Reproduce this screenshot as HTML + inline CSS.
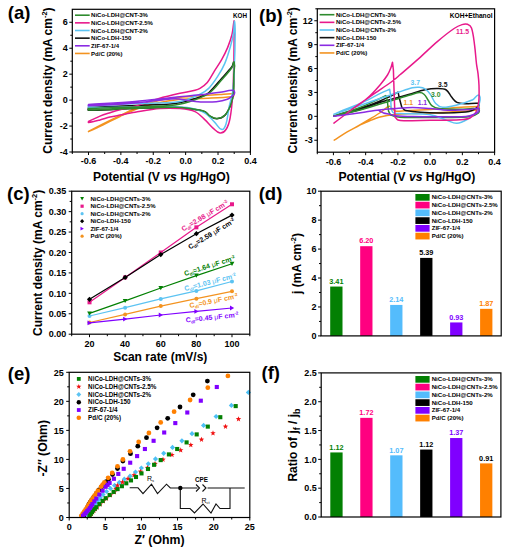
<!DOCTYPE html>
<html><head><meta charset="utf-8"><style>
html,body{margin:0;padding:0;background:#fff;}
svg{display:block;font-family:"Liberation Sans", sans-serif;}
</style></head><body>
<svg width="509" height="550" viewBox="0 0 509 550">
<rect width="509" height="550" fill="#fff"/>
<text x="7.80" y="19.10" font-size="18.5" text-anchor="start" fill="#000" font-weight="bold">(a)</text>
<path d="M88.49 152.0v3M120.87 152.0v3M153.25 152.0v3M185.64 152.0v3M218.02 152.0v3M250.40 152.0v3M72.30 152.0v2M104.68 152.0v2M137.06 152.0v2M169.45 152.0v2M201.83 152.0v2M234.21 152.0v2" stroke="#000" stroke-width="1"/>
<text x="88.49" y="164.30" font-size="9" text-anchor="middle" fill="#000" font-weight="bold">-0.6</text>
<text x="120.87" y="164.30" font-size="9" text-anchor="middle" fill="#000" font-weight="bold">-0.4</text>
<text x="153.25" y="164.30" font-size="9" text-anchor="middle" fill="#000" font-weight="bold">-0.2</text>
<text x="185.64" y="164.30" font-size="9" text-anchor="middle" fill="#000" font-weight="bold">0.0</text>
<text x="218.02" y="164.30" font-size="9" text-anchor="middle" fill="#000" font-weight="bold">0.2</text>
<text x="250.40" y="164.30" font-size="9" text-anchor="middle" fill="#000" font-weight="bold">0.4</text>
<path d="M72.3 152.00h-3M72.3 126.05h-3M72.3 100.11h-3M72.3 74.16h-3M72.3 48.22h-3M72.3 22.27h-3M72.3 139.03h-2M72.3 113.08h-2M72.3 87.14h-2M72.3 61.19h-2M72.3 35.25h-2" stroke="#000" stroke-width="1"/>
<text x="67.80" y="155.20" font-size="9" text-anchor="end" fill="#000" font-weight="bold">-4</text>
<text x="67.80" y="129.25" font-size="9" text-anchor="end" fill="#000" font-weight="bold">-2</text>
<text x="67.80" y="103.31" font-size="9" text-anchor="end" fill="#000" font-weight="bold">0</text>
<text x="67.80" y="77.36" font-size="9" text-anchor="end" fill="#000" font-weight="bold">2</text>
<text x="67.80" y="51.42" font-size="9" text-anchor="end" fill="#000" font-weight="bold">4</text>
<text x="67.80" y="25.47" font-size="9" text-anchor="end" fill="#000" font-weight="bold">6</text>
<text x="161.30" y="180.70" font-size="12.2" text-anchor="middle" fill="#000" font-weight="bold">Potential (V <tspan font-style="italic">vs</tspan> Hg/HgO)</text>
<text x="51.60" y="80.50" font-size="12" text-anchor="middle" fill="#000" font-weight="bold" transform="rotate(-90 51.60 80.50)">Current density (mA cm<tspan dy="-4.8" font-size="7.5">-2</tspan><tspan dy="4.8">)</tspan></text>
<path d="M75 15.20h14.7" stroke="#2e8b2e" stroke-width="1.6"/>
<text x="91.10" y="17.30" font-size="6" text-anchor="start" fill="#000" font-weight="bold">NiCo-LDH@CNT-3%</text>
<path d="M75 22.85h14.7" stroke="#e8198b" stroke-width="1.6"/>
<text x="91.10" y="24.95" font-size="6" text-anchor="start" fill="#000" font-weight="bold">NiCo-LDH@CNT-2.5%</text>
<path d="M75 30.50h14.7" stroke="#5cc3f2" stroke-width="1.6"/>
<text x="91.10" y="32.60" font-size="6" text-anchor="start" fill="#000" font-weight="bold">NiCo-LDH@CNT-2%</text>
<path d="M75 38.15h14.7" stroke="#111" stroke-width="1.6"/>
<text x="91.10" y="40.25" font-size="6" text-anchor="start" fill="#000" font-weight="bold">NiCo-LDH-150</text>
<path d="M75 45.80h14.7" stroke="#8a2be2" stroke-width="1.6"/>
<text x="91.10" y="47.90" font-size="6" text-anchor="start" fill="#000" font-weight="bold">ZIF-67-1/4</text>
<path d="M75 53.45h14.7" stroke="#f39320" stroke-width="1.6"/>
<text x="91.10" y="55.55" font-size="6" text-anchor="start" fill="#000" font-weight="bold">Pd/C (20%)</text>
<text x="247.00" y="18.20" font-size="6.3" text-anchor="end" fill="#000" font-weight="bold">KOH</text>
<text x="259.00" y="21.50" font-size="18.5" text-anchor="start" fill="#000" font-weight="bold">(b)</text>
<path d="M333.42 152.2v3M365.65 152.2v3M397.89 152.2v3M430.13 152.2v3M462.36 152.2v3M494.60 152.2v3M317.30 152.2v2M349.54 152.2v2M381.77 152.2v2M414.01 152.2v2M446.25 152.2v2M478.48 152.2v2" stroke="#000" stroke-width="1"/>
<text x="333.42" y="164.50" font-size="9" text-anchor="middle" fill="#000" font-weight="bold">-0.6</text>
<text x="365.65" y="164.50" font-size="9" text-anchor="middle" fill="#000" font-weight="bold">-0.4</text>
<text x="397.89" y="164.50" font-size="9" text-anchor="middle" fill="#000" font-weight="bold">-0.2</text>
<text x="430.13" y="164.50" font-size="9" text-anchor="middle" fill="#000" font-weight="bold">0.0</text>
<text x="462.36" y="164.50" font-size="9" text-anchor="middle" fill="#000" font-weight="bold">0.2</text>
<text x="494.60" y="164.50" font-size="9" text-anchor="middle" fill="#000" font-weight="bold">0.4</text>
<path d="M317.3 140.25h-3M317.3 116.35h-3M317.3 92.45h-3M317.3 68.55h-3M317.3 44.65h-3M317.3 20.75h-3M317.3 128.30h-2M317.3 104.40h-2M317.3 80.50h-2M317.3 56.60h-2M317.3 32.70h-2M317.3 8.80h-2" stroke="#000" stroke-width="1"/>
<text x="312.80" y="143.45" font-size="9" text-anchor="end" fill="#000" font-weight="bold">-3</text>
<text x="312.80" y="119.55" font-size="9" text-anchor="end" fill="#000" font-weight="bold">0</text>
<text x="312.80" y="95.65" font-size="9" text-anchor="end" fill="#000" font-weight="bold">3</text>
<text x="312.80" y="71.75" font-size="9" text-anchor="end" fill="#000" font-weight="bold">6</text>
<text x="312.80" y="47.85" font-size="9" text-anchor="end" fill="#000" font-weight="bold">9</text>
<text x="312.80" y="23.95" font-size="9" text-anchor="end" fill="#000" font-weight="bold">12</text>
<text x="406.90" y="180.70" font-size="12.2" text-anchor="middle" fill="#000" font-weight="bold">Potential (V <tspan font-style="italic">vs</tspan> Hg/HgO)</text>
<text x="297.00" y="80.30" font-size="12" text-anchor="middle" fill="#000" font-weight="bold" transform="rotate(-90 297.00 80.30)">Current density (mA cm<tspan dy="-4.8" font-size="7.5">-2</tspan><tspan dy="4.8">)</tspan></text>
<path d="M319.6 14.70h14.8" stroke="#2e8b2e" stroke-width="1.6"/>
<text x="336.00" y="16.80" font-size="6" text-anchor="start" fill="#000" font-weight="bold">NiCo-LDH@CNTs-3%</text>
<path d="M319.6 22.35h14.8" stroke="#e8198b" stroke-width="1.6"/>
<text x="336.00" y="24.45" font-size="6" text-anchor="start" fill="#000" font-weight="bold">NiCo-LDH@CNTs-2.5%</text>
<path d="M319.6 30.00h14.8" stroke="#5cc3f2" stroke-width="1.6"/>
<text x="336.00" y="32.10" font-size="6" text-anchor="start" fill="#000" font-weight="bold">NiCo-LDH@CNTs-2%</text>
<path d="M319.6 37.65h14.8" stroke="#111" stroke-width="1.6"/>
<text x="336.00" y="39.75" font-size="6" text-anchor="start" fill="#000" font-weight="bold">NiCo-LDH-150</text>
<path d="M319.6 45.30h14.8" stroke="#8a2be2" stroke-width="1.6"/>
<text x="336.00" y="47.40" font-size="6" text-anchor="start" fill="#000" font-weight="bold">ZIF-67-1/4</text>
<path d="M319.6 52.95h14.8" stroke="#f39320" stroke-width="1.6"/>
<text x="336.00" y="55.05" font-size="6" text-anchor="start" fill="#000" font-weight="bold">Pd/C (20%)</text>
<text x="492.50" y="18.20" font-size="6.6" text-anchor="end" fill="#000" font-weight="bold">KOH+Ethanol</text>
<text x="7.00" y="199.70" font-size="18.5" text-anchor="start" fill="#000" font-weight="bold">(c)</text>
<path d="M89.51 334.2v3M125.13 334.2v3M160.75 334.2v3M196.37 334.2v3M231.99 334.2v3M71.70 334.2v2M107.32 334.2v2M142.94 334.2v2M178.56 334.2v2M214.18 334.2v2M249.80 334.2v2" stroke="#000" stroke-width="1"/>
<text x="89.51" y="347.10" font-size="9" text-anchor="middle" fill="#000" font-weight="bold">20</text>
<text x="125.13" y="347.10" font-size="9" text-anchor="middle" fill="#000" font-weight="bold">40</text>
<text x="160.75" y="347.10" font-size="9" text-anchor="middle" fill="#000" font-weight="bold">60</text>
<text x="196.37" y="347.10" font-size="9" text-anchor="middle" fill="#000" font-weight="bold">80</text>
<text x="231.99" y="347.10" font-size="9" text-anchor="middle" fill="#000" font-weight="bold">100</text>
<path d="M71.7 334.20h-3M71.7 313.77h-3M71.7 293.34h-3M71.7 272.91h-3M71.7 252.49h-3M71.7 232.06h-3M71.7 211.63h-3M71.7 191.20h-3M71.7 323.99h-2M71.7 303.56h-2M71.7 283.13h-2M71.7 262.70h-2M71.7 242.27h-2M71.7 221.84h-2M71.7 201.41h-2" stroke="#000" stroke-width="1"/>
<text x="66.40" y="337.40" font-size="9" text-anchor="end" fill="#000" font-weight="bold">0.00</text>
<text x="66.40" y="316.97" font-size="9" text-anchor="end" fill="#000" font-weight="bold">0.05</text>
<text x="66.40" y="296.54" font-size="9" text-anchor="end" fill="#000" font-weight="bold">0.10</text>
<text x="66.40" y="276.11" font-size="9" text-anchor="end" fill="#000" font-weight="bold">0.15</text>
<text x="66.40" y="255.69" font-size="9" text-anchor="end" fill="#000" font-weight="bold">0.20</text>
<text x="66.40" y="235.26" font-size="9" text-anchor="end" fill="#000" font-weight="bold">0.25</text>
<text x="66.40" y="214.83" font-size="9" text-anchor="end" fill="#000" font-weight="bold">0.30</text>
<text x="66.40" y="194.40" font-size="9" text-anchor="end" fill="#000" font-weight="bold">0.35</text>
<text x="160.30" y="361.30" font-size="12" text-anchor="middle" fill="#000" font-weight="bold">Scan rate (mV/s)</text>
<text x="41.80" y="262.90" font-size="12" text-anchor="middle" fill="#000" font-weight="bold" transform="rotate(-90 41.80 262.90)">Current density (mA cm<tspan dy="-4.8" font-size="7.5">-2</tspan><tspan dy="4.8">)</tspan></text>
<text x="258.70" y="199.50" font-size="18.5" text-anchor="start" fill="#000" font-weight="bold">(d)</text>
<path d="M321.0 335.90h-3M321.0 306.96h-3M321.0 278.02h-3M321.0 249.08h-3M321.0 220.14h-3M321.0 191.20h-3M321.0 321.43h-2M321.0 292.49h-2M321.0 263.55h-2M321.0 234.61h-2M321.0 205.67h-2" stroke="#000" stroke-width="1"/>
<text x="316.50" y="339.10" font-size="9" text-anchor="end" fill="#000" font-weight="bold">0</text>
<text x="316.50" y="310.16" font-size="9" text-anchor="end" fill="#000" font-weight="bold">2</text>
<text x="316.50" y="281.22" font-size="9" text-anchor="end" fill="#000" font-weight="bold">4</text>
<text x="316.50" y="252.28" font-size="9" text-anchor="end" fill="#000" font-weight="bold">6</text>
<text x="316.50" y="223.34" font-size="9" text-anchor="end" fill="#000" font-weight="bold">8</text>
<text x="316.50" y="194.40" font-size="9" text-anchor="end" fill="#000" font-weight="bold">10</text>
<text x="300.50" y="263.50" font-size="12" text-anchor="middle" fill="#000" font-weight="bold" transform="rotate(-90 300.50 263.50)">j (mA cm<tspan dy="-4.8" font-size="7.5">-2</tspan><tspan dy="4.8">)</tspan></text>
<text x="7.80" y="379.70" font-size="18.5" text-anchor="start" fill="#000" font-weight="bold">(e)</text>
<path d="M69.20 517.5v3M105.32 517.5v3M141.44 517.5v3M177.56 517.5v3M213.68 517.5v3M249.80 517.5v3M87.26 517.5v2M123.38 517.5v2M159.50 517.5v2M195.62 517.5v2M231.74 517.5v2" stroke="#000" stroke-width="1"/>
<text x="69.20" y="529.90" font-size="9" text-anchor="middle" fill="#000" font-weight="bold">0</text>
<text x="105.32" y="529.90" font-size="9" text-anchor="middle" fill="#000" font-weight="bold">5</text>
<text x="141.44" y="529.90" font-size="9" text-anchor="middle" fill="#000" font-weight="bold">10</text>
<text x="177.56" y="529.90" font-size="9" text-anchor="middle" fill="#000" font-weight="bold">15</text>
<text x="213.68" y="529.90" font-size="9" text-anchor="middle" fill="#000" font-weight="bold">20</text>
<text x="249.80" y="529.90" font-size="9" text-anchor="middle" fill="#000" font-weight="bold">25</text>
<path d="M69.2 517.50h-3M69.2 488.46h-3M69.2 459.42h-3M69.2 430.38h-3M69.2 401.34h-3M69.2 372.30h-3M69.2 502.98h-2M69.2 473.94h-2M69.2 444.90h-2M69.2 415.86h-2M69.2 386.82h-2" stroke="#000" stroke-width="1"/>
<text x="63.70" y="520.70" font-size="9" text-anchor="end" fill="#000" font-weight="bold">0</text>
<text x="63.70" y="491.66" font-size="9" text-anchor="end" fill="#000" font-weight="bold">5</text>
<text x="63.70" y="462.62" font-size="9" text-anchor="end" fill="#000" font-weight="bold">10</text>
<text x="63.70" y="433.58" font-size="9" text-anchor="end" fill="#000" font-weight="bold">15</text>
<text x="63.70" y="404.54" font-size="9" text-anchor="end" fill="#000" font-weight="bold">20</text>
<text x="63.70" y="375.50" font-size="9" text-anchor="end" fill="#000" font-weight="bold">25</text>
<text x="159.50" y="544.20" font-size="12.3" text-anchor="middle" fill="#000" font-weight="bold">Z′ (Ohm)</text>
<text x="47.20" y="448.30" font-size="12.2" text-anchor="middle" fill="#000" font-weight="bold" transform="rotate(-90 47.20 448.30)">-Z″ (Ohm)</text>
<text x="261.50" y="379.10" font-size="18.5" text-anchor="start" fill="#000" font-weight="bold">(f)</text>
<path d="M321.2 517.00h-3M321.2 488.18h-3M321.2 459.36h-3M321.2 430.54h-3M321.2 401.72h-3M321.2 372.90h-3M321.2 502.59h-2M321.2 473.77h-2M321.2 444.95h-2M321.2 416.13h-2M321.2 387.31h-2" stroke="#000" stroke-width="1"/>
<text x="316.70" y="520.20" font-size="9" text-anchor="end" fill="#000" font-weight="bold">0.0</text>
<text x="316.70" y="491.38" font-size="9" text-anchor="end" fill="#000" font-weight="bold">0.5</text>
<text x="316.70" y="462.56" font-size="9" text-anchor="end" fill="#000" font-weight="bold">1.0</text>
<text x="316.70" y="433.74" font-size="9" text-anchor="end" fill="#000" font-weight="bold">1.5</text>
<text x="316.70" y="404.92" font-size="9" text-anchor="end" fill="#000" font-weight="bold">2.0</text>
<text x="316.70" y="376.10" font-size="9" text-anchor="end" fill="#000" font-weight="bold">2.5</text>
<text x="297.00" y="445.00" font-size="12" text-anchor="middle" fill="#000" font-weight="bold" transform="rotate(-90 297.00 445.00)">Ratio of j<tspan dy="3" font-size="9">f</tspan><tspan dy="-3"> / j</tspan><tspan dy="3" font-size="9">b</tspan></text>
<path d="M88.50 131.30 C92.33 129.37 96.16 127.43 100.00 125.50 C103.33 123.83 106.66 122.15 110.00 120.50 C113.33 118.85 116.67 117.23 120.00 115.60 C123.33 113.97 126.65 112.31 130.00 110.70 C133.32 109.11 136.52 107.21 140.00 106.00 C146.55 103.73 153.25 101.88 160.00 100.30 C164.94 99.14 169.96 98.37 175.00 97.80 C183.31 96.87 191.66 96.41 200.00 95.80 C206.66 95.31 213.33 94.92 220.00 94.50 C224.00 94.25 228.00 93.66 232.00 93.80 C232.78 93.83 234.00 94.22 234.00 95.00 C234.00 95.90 232.89 96.71 232.00 96.80 C221.37 97.89 210.66 97.90 200.00 98.50 C191.66 98.97 183.31 99.17 175.00 100.00 C169.96 100.50 164.95 101.40 160.00 102.50 C153.27 104.00 146.59 105.76 140.00 107.80 C136.57 108.86 133.29 110.37 130.00 111.80 C126.62 113.27 123.32 114.91 120.00 116.50 C116.65 118.11 113.33 119.77 110.00 121.40 C106.67 123.03 103.35 124.71 100.00 126.30 C96.19 128.11 92.33 129.83 88.50 131.60" fill="none" stroke="#f39320" stroke-width="1.5" stroke-linejoin="round" stroke-linecap="round"/>
<path d="M88.50 107.50 C104.00 106.83 119.50 106.22 135.00 105.50 C148.34 104.88 161.76 105.23 175.00 103.50 C183.54 102.38 191.80 99.63 200.00 97.00 C203.08 96.01 206.25 94.81 208.70 92.70 C213.63 88.45 217.47 83.07 221.80 78.20 C225.24 74.33 228.89 70.63 232.00 66.50 C232.99 65.19 233.66 60.39 234.00 62.00 C234.90 66.24 233.90 70.67 233.80 75.00 C233.66 81.27 233.90 87.56 233.30 93.80 C232.97 97.27 232.26 100.75 231.00 104.00 C229.47 107.95 227.92 112.13 225.00 115.20 C222.99 117.31 219.90 118.51 217.00 118.70 C214.53 118.86 212.15 117.44 210.00 116.20 C208.08 115.09 207.08 112.58 205.00 111.80 C200.22 110.01 195.05 109.44 190.00 108.70 C185.03 107.97 180.02 107.42 175.00 107.40 C161.66 107.35 148.33 108.07 135.00 108.50 C119.50 109.00 104.01 110.53 88.50 110.20 C87.60 110.18 88.50 108.40 88.50 107.50" fill="none" stroke="#111" stroke-width="1.5" stroke-linejoin="round" stroke-linecap="round"/>
<path d="M88.50 121.50 C92.33 119.70 96.08 117.70 100.00 116.10 C103.26 114.77 106.65 113.77 110.00 112.70 C113.31 111.64 116.63 110.56 120.00 109.70 C124.97 108.43 130.07 107.72 135.00 106.30 C143.09 103.98 150.92 100.83 159.00 98.50 C165.93 96.50 172.97 94.90 180.00 93.30 C184.97 92.17 190.05 91.51 195.00 90.30 C196.73 89.88 198.49 89.35 200.00 88.40 C202.64 86.72 205.30 84.91 207.30 82.50 C210.20 79.00 212.09 74.76 214.50 70.90 C216.92 67.03 219.56 63.28 221.80 59.30 C223.93 55.51 225.94 51.63 227.60 47.60 C229.35 43.34 230.90 38.97 232.00 34.50 C232.94 30.71 233.10 26.76 233.70 22.90 C233.80 22.26 234.08 20.35 234.10 21.00 C234.25 27.33 234.15 33.67 234.10 40.00 C234.05 47.33 233.98 54.67 233.80 62.00 C233.54 72.60 233.51 83.22 232.80 93.80 C232.24 102.07 231.55 110.36 230.00 118.50 C229.27 122.33 228.22 126.29 226.00 129.50 C224.69 131.41 222.30 133.25 220.00 133.00 C217.17 132.70 215.15 129.97 213.00 128.10 C210.12 125.59 207.81 122.48 205.00 119.90 C201.81 116.97 198.95 113.38 195.00 111.60 C190.35 109.50 185.08 109.05 180.00 108.60 C173.36 108.01 166.65 107.97 160.00 108.50 C151.60 109.17 143.31 110.83 135.00 112.20 C129.98 113.03 125.00 114.12 120.00 115.10 C116.66 115.75 113.30 116.29 110.00 117.10 C106.63 117.93 103.37 119.15 100.00 120.00 C96.20 120.96 92.39 121.99 88.50 122.50 C88.17 122.54 88.50 121.83 88.50 121.50" fill="none" stroke="#e8198b" stroke-width="1.5" stroke-linejoin="round" stroke-linecap="round"/>
<path d="M88.50 105.80 C104.00 105.07 119.50 104.33 135.00 103.60 C150.00 102.90 165.14 103.65 180.00 101.50 C187.02 100.48 193.54 97.15 200.00 94.20 C203.17 92.75 206.24 90.86 208.70 88.40 C212.15 84.95 214.85 80.80 217.50 76.70 C220.20 72.51 222.75 68.18 224.70 63.60 C227.10 57.98 228.81 52.07 230.50 46.20 C231.74 41.90 232.73 37.51 233.50 33.10 C234.14 29.43 234.23 18.31 234.70 22.00 C235.66 29.61 235.06 37.33 235.00 45.00 C234.96 51.20 234.69 57.40 234.40 63.60 C233.99 72.34 233.97 81.12 232.90 89.80 C232.16 95.80 230.19 101.58 229.00 107.50 C227.89 112.98 227.69 118.67 226.00 124.00 C225.31 126.16 224.25 129.79 222.00 129.50 C218.75 129.09 217.35 124.88 215.00 122.60 C211.68 119.38 208.99 115.33 205.00 113.00 C200.45 110.34 195.16 109.07 190.00 108.00 C185.09 106.98 180.02 106.87 175.00 106.80 C161.67 106.61 148.33 107.14 135.00 107.20 C119.50 107.27 103.99 107.67 88.50 107.20 C88.03 107.19 88.50 106.27 88.50 105.80" fill="none" stroke="#5cc3f2" stroke-width="1.5" stroke-linejoin="round" stroke-linecap="round"/>
<path d="M88.50 108.60 C104.00 108.07 119.50 107.64 135.00 107.00 C148.34 106.44 161.75 106.59 175.00 105.00 C181.84 104.18 188.51 102.12 195.00 99.80 C200.24 97.93 205.56 95.84 210.00 92.50 C214.71 88.96 218.10 83.93 222.00 79.50 C225.44 75.59 229.00 71.76 232.00 67.50 C233.10 65.94 233.75 60.34 234.20 62.20 C235.20 66.35 233.92 70.73 233.80 75.00 C233.62 81.27 233.90 87.56 233.30 93.80 C232.97 97.27 232.27 100.75 231.00 104.00 C229.48 107.89 227.90 112.00 225.00 115.00 C222.98 117.09 219.90 118.31 217.00 118.50 C214.53 118.66 212.15 117.24 210.00 116.00 C208.08 114.89 207.08 112.38 205.00 111.60 C200.22 109.81 195.05 109.24 190.00 108.50 C185.03 107.77 180.02 107.22 175.00 107.20 C161.66 107.15 148.33 107.87 135.00 108.30 C119.50 108.80 104.01 109.90 88.50 110.00 C88.03 110.00 88.50 109.07 88.50 108.60" fill="none" stroke="#2e8b2e" stroke-width="1.5" stroke-linejoin="round" stroke-linecap="round"/>
<path d="M88.50 104.60 C104.00 103.53 119.52 102.72 135.00 101.40 C148.36 100.26 161.66 98.55 175.00 97.20 C183.33 96.35 191.68 95.72 200.00 94.80 C206.68 94.06 213.34 93.14 220.00 92.20 C224.01 91.64 227.96 90.58 232.00 90.30 C232.82 90.24 233.88 90.49 234.30 91.20 C234.81 92.06 234.66 93.27 234.30 94.20 C234.01 94.95 233.15 95.33 232.50 95.80 C230.81 97.03 229.26 98.58 227.30 99.30 C223.77 100.58 220.03 101.29 216.30 101.70 C211.73 102.20 207.10 102.18 202.50 102.00 C197.91 101.82 193.36 101.13 188.80 100.60 C184.19 100.06 179.63 98.59 175.00 98.80 C161.61 99.40 148.36 101.92 135.00 103.00 C119.52 104.25 104.02 105.27 88.50 105.80 C88.10 105.81 88.50 105.00 88.50 104.60" fill="none" stroke="#8a2be2" stroke-width="1.5" stroke-linejoin="round" stroke-linecap="round"/>
<path d="M334.20 140.10 C338.53 137.37 342.78 134.50 347.20 131.90 C351.06 129.63 355.11 127.70 359.00 125.50 C362.71 123.40 366.36 121.21 370.00 119.00 C374.03 116.55 378.08 114.12 382.00 111.50 C384.48 109.85 386.31 106.94 389.20 106.20 C390.56 105.85 391.37 107.97 392.50 108.80 C393.64 109.64 394.60 110.98 396.00 111.20 C398.97 111.67 402.00 110.95 405.00 110.80 C413.33 110.38 421.67 109.98 430.00 109.50 C446.17 108.58 462.30 106.60 478.50 106.60 C479.47 106.60 479.75 109.32 478.80 109.50 C469.33 111.29 459.62 111.38 450.00 112.00 C440.01 112.65 430.00 112.85 420.00 113.30 C411.67 113.68 403.31 113.73 395.00 114.50 C389.95 114.97 384.91 115.73 380.00 117.00 C375.86 118.07 371.96 119.90 368.00 121.50 C364.96 122.73 362.00 124.17 359.00 125.50" fill="none" stroke="#f39320" stroke-width="1.5" stroke-linejoin="round" stroke-linecap="round"/>
<path d="M333.90 116.00 C342.60 113.83 351.40 112.02 360.00 109.50 C366.78 107.51 373.26 104.63 380.00 102.50 C385.94 100.62 392.01 99.19 398.00 97.50 C401.81 96.43 405.60 95.28 409.40 94.20 C414.60 92.72 419.70 90.86 425.00 89.80 C429.07 88.99 433.25 88.56 437.40 88.60 C440.40 88.63 443.72 88.46 446.30 90.00 C448.83 91.52 449.68 94.86 451.60 97.10 C453.22 99.00 454.64 101.33 456.90 102.40 C459.58 103.67 462.73 103.68 465.70 103.80 C469.97 103.98 474.29 102.59 478.50 103.30 C479.39 103.45 479.30 105.33 478.70 106.00 C476.90 108.00 474.44 109.36 472.00 110.50 C470.04 111.42 467.86 111.94 465.70 112.10 C456.89 112.77 448.03 113.25 439.20 113.00 C427.97 112.68 416.70 112.12 405.60 110.40 C403.96 110.15 403.07 108.27 401.80 107.20 L399.30 98.00 L398.10 92.20 L398.10 92.20 C395.40 93.63 392.78 95.23 390.00 96.50 C383.41 99.50 376.84 102.62 370.00 105.00 C358.12 109.13 345.93 112.33 333.90 116.00" fill="none" stroke="#111" stroke-width="1.5" stroke-linejoin="round" stroke-linecap="round"/>
<path d="M333.90 116.00 C342.60 114.00 351.38 112.33 360.00 110.00 C371.76 106.82 383.33 103.00 395.00 99.50 C400.00 98.00 404.98 96.43 410.00 95.00 C413.05 94.13 416.04 92.78 419.20 92.60 C420.88 92.50 422.71 93.11 424.00 94.20 C425.80 95.71 426.66 98.07 428.00 100.00 C429.36 101.97 430.20 104.44 432.10 105.90 C434.11 107.44 436.69 108.29 439.20 108.60 C446.09 109.44 453.06 109.23 460.00 109.30 C466.17 109.36 472.45 107.79 478.50 109.00 C479.81 109.26 479.50 112.12 478.50 113.00 C476.20 115.03 473.03 116.06 470.00 116.50 C462.74 117.55 455.34 117.33 448.00 117.40 C432.00 117.56 415.99 117.87 400.00 117.20 C396.91 117.07 393.72 116.47 391.00 115.00 C389.62 114.25 389.33 112.33 388.50 111.00 L387.20 100.00 L385.80 95.60 L385.80 95.60 C383.20 96.90 380.64 98.28 378.00 99.50 C372.04 102.25 366.15 105.20 360.00 107.50 C351.43 110.71 342.60 113.17 333.90 116.00" fill="none" stroke="#2e8b2e" stroke-width="1.5" stroke-linejoin="round" stroke-linecap="round"/>
<path d="M333.90 114.30 C342.60 111.37 351.31 108.48 360.00 105.50 C366.68 103.21 373.32 100.80 380.00 98.50 C386.19 96.37 392.39 94.26 398.60 92.20 C403.15 90.69 407.63 88.91 412.30 87.80 C414.54 87.27 416.90 87.12 419.20 87.30 C421.19 87.46 423.31 87.73 425.00 88.80 C427.19 90.19 428.87 92.30 430.40 94.40 C432.47 97.24 433.28 100.96 435.70 103.50 C437.53 105.42 440.05 107.11 442.70 107.30 C447.48 107.64 452.25 106.16 456.90 105.00 C462.31 103.65 467.69 102.04 472.80 99.80 C475.14 98.77 476.87 93.90 479.00 95.30 C481.43 96.89 479.66 101.14 479.20 104.00 C478.74 106.83 478.05 109.83 476.30 112.10 C474.00 115.09 470.76 117.32 467.50 119.20 C464.22 121.09 460.69 123.14 456.90 123.30 C453.21 123.46 449.81 121.23 446.30 120.10 C440.98 118.39 435.93 115.59 430.40 114.80 C420.36 113.37 410.13 114.05 400.00 113.50 C397.82 113.38 395.44 113.79 393.50 112.80 C392.18 112.13 391.97 110.27 391.20 109.00 L390.50 95.00 L389.70 89.30 L389.70 89.30 C387.10 90.43 384.45 91.46 381.90 92.70 C375.02 96.03 368.36 99.83 361.40 103.00 C356.05 105.44 350.44 107.27 345.00 109.50 C341.27 111.03 337.60 112.70 333.90 114.30" fill="none" stroke="#5cc3f2" stroke-width="1.5" stroke-linejoin="round" stroke-linecap="round"/>
<path d="M333.90 123.10 C337.27 120.57 340.64 118.05 344.00 115.50 C347.54 112.81 350.99 110.00 354.60 107.40 C361.33 102.56 368.20 97.94 375.00 93.20 C381.07 88.97 387.24 84.89 393.20 80.50 C395.58 78.75 397.76 76.73 400.00 74.80 C406.26 69.43 412.54 64.08 418.70 58.60 C424.97 53.02 430.90 47.04 437.30 41.60 C442.71 37.00 448.25 32.53 454.10 28.50 C456.52 26.84 459.20 25.48 462.00 24.60 C463.75 24.05 465.77 23.68 467.50 24.30 C469.21 24.91 470.92 26.28 471.50 28.00 C473.38 33.55 473.79 39.50 474.60 45.30 C475.46 51.51 475.74 57.78 476.50 64.00 C476.88 67.12 477.64 70.18 478.00 73.30 C478.47 77.39 478.90 81.49 479.00 85.60 C479.13 91.07 479.32 96.57 478.70 102.00 C478.31 105.43 477.65 108.97 476.00 112.00 C474.65 114.48 472.54 116.76 470.00 118.00 C466.96 119.48 463.38 119.61 460.00 119.80 C450.02 120.37 440.00 120.12 430.00 120.30 C421.33 120.45 412.67 120.88 404.00 120.80 C401.98 120.78 399.86 120.78 398.00 120.00 C396.70 119.45 396.00 118.00 395.00 117.00 L394.20 95.00 L393.40 70.00 L392.50 62.30 L392.50 62.30 C392.00 64.03 391.66 65.82 391.00 67.50 C389.99 70.07 388.97 72.66 387.50 75.00 C385.28 78.53 382.68 81.81 380.00 85.00 C376.84 88.75 373.52 92.38 370.00 95.80 C367.51 98.22 364.78 100.41 362.00 102.50 C359.64 104.28 357.07 105.77 354.60 107.40" fill="none" stroke="#e8198b" stroke-width="1.5" stroke-linejoin="round" stroke-linecap="round"/>
<path d="M333.90 116.30 C340.93 115.37 347.97 114.47 355.00 113.50 C362.41 112.47 369.78 111.23 377.20 110.30 C383.12 109.56 389.06 108.99 395.00 108.50 C400.89 108.02 406.79 107.38 412.70 107.40 C418.61 107.42 424.50 108.13 430.40 108.60 C436.27 109.07 442.11 110.07 448.00 110.20 C455.34 110.37 462.68 109.96 470.00 109.50 C472.86 109.32 475.68 107.82 478.50 108.30 C479.39 108.45 479.27 110.23 478.80 111.00 C477.96 112.38 476.49 113.38 475.00 114.00 C472.04 115.24 468.91 116.37 465.70 116.50 C448.05 117.21 430.37 116.70 412.70 116.50 C406.79 116.43 400.88 116.29 395.00 115.70 C393.17 115.52 391.49 114.62 389.70 114.20 C387.65 113.72 385.51 113.63 383.50 113.00 C382.08 112.55 380.83 111.67 379.50 111.00" fill="none" stroke="#8a2be2" stroke-width="1.5" stroke-linejoin="round" stroke-linecap="round"/>
<text x="415.30" y="85.00" font-size="6.8" text-anchor="middle" fill="#5cc3f2" font-weight="bold">3.7</text>
<text x="442.70" y="87.20" font-size="6.8" text-anchor="middle" fill="#111" font-weight="bold">3.5</text>
<text x="435.70" y="96.60" font-size="6.8" text-anchor="middle" fill="#2e8b2e" font-weight="bold">3.0</text>
<text x="408.30" y="105.40" font-size="6.8" text-anchor="middle" fill="#f39320" font-weight="bold">1.1</text>
<text x="422.40" y="105.40" font-size="6.8" text-anchor="middle" fill="#8a2be2" font-weight="bold">1.1</text>
<text x="462.50" y="34.20" font-size="6.8" text-anchor="middle" fill="#e8198b" font-weight="bold">11.5</text>
<path d="M89.51 322.51 L125.13 314.38 L160.75 306.09 L196.37 298.65 L231.99 291.30" fill="none" stroke="#f39320" stroke-width="1.2" stroke-linejoin="round"/>
<circle cx="89.51" cy="322.51" r="2.00" fill="#f39320"/>
<circle cx="125.13" cy="314.38" r="2.00" fill="#f39320"/>
<circle cx="160.75" cy="306.09" r="2.00" fill="#f39320"/>
<circle cx="196.37" cy="298.65" r="2.00" fill="#f39320"/>
<circle cx="231.99" cy="291.30" r="2.00" fill="#f39320"/>
<path d="M89.51 322.88 L125.13 319.08 L160.75 315.00 L196.37 311.40 L231.99 308.01" fill="none" stroke="#8000ff" stroke-width="1.2" stroke-linejoin="round"/>
<path d="M87.51 320.48L91.71 322.88L87.51 325.28Z" fill="#8000ff"/>
<path d="M123.13 316.68L127.33 319.08L123.13 321.48Z" fill="#8000ff"/>
<path d="M158.75 312.60L162.95 315.00L158.75 317.40Z" fill="#8000ff"/>
<path d="M194.37 309.00L198.57 311.40L194.37 313.80Z" fill="#8000ff"/>
<path d="M229.99 305.61L234.19 308.01L229.99 310.41Z" fill="#8000ff"/>
<path d="M89.51 316.02 L125.13 307.68 L160.75 298.90 L196.37 290.89 L231.99 281.49" fill="none" stroke="#5cc3f2" stroke-width="1.2" stroke-linejoin="round"/>
<circle cx="89.51" cy="316.02" r="2.00" fill="#5cc3f2"/>
<circle cx="125.13" cy="307.68" r="2.00" fill="#5cc3f2"/>
<circle cx="160.75" cy="298.90" r="2.00" fill="#5cc3f2"/>
<circle cx="196.37" cy="290.89" r="2.00" fill="#5cc3f2"/>
<circle cx="231.99" cy="281.49" r="2.00" fill="#5cc3f2"/>
<path d="M89.51 313.40 L125.13 300.90 L160.75 288.03 L196.37 275.61 L231.99 263.80" fill="none" stroke="#038003" stroke-width="1.2" stroke-linejoin="round"/>
<path d="M87.11 311.40L91.91 311.40L89.51 315.60Z" fill="#038003"/>
<path d="M122.73 298.90L127.53 298.90L125.13 303.10Z" fill="#038003"/>
<path d="M158.35 286.03L163.15 286.03L160.75 290.23Z" fill="#038003"/>
<path d="M193.97 273.61L198.77 273.61L196.37 277.81Z" fill="#038003"/>
<path d="M229.59 261.80L234.39 261.80L231.99 266.00Z" fill="#038003"/>
<path d="M89.51 302.33 L125.13 277.41 L160.75 252.49 L196.37 227.32 L231.99 204.27" fill="none" stroke="#e8198b" stroke-width="1.2" stroke-linejoin="round"/>
<rect x="87.51" y="300.33" width="4.00" height="4.00" fill="#e8198b"/>
<rect x="123.13" y="275.41" width="4.00" height="4.00" fill="#e8198b"/>
<rect x="158.75" y="250.49" width="4.00" height="4.00" fill="#e8198b"/>
<rect x="194.37" y="225.32" width="4.00" height="4.00" fill="#e8198b"/>
<rect x="229.99" y="202.27" width="4.00" height="4.00" fill="#e8198b"/>
<path d="M89.51 299.31 L125.13 277.41 L160.75 254.53 L196.37 233.69 L231.99 215.10" fill="none" stroke="#000" stroke-width="1.2" stroke-linejoin="round"/>
<path d="M89.51 296.71L92.11 299.31L89.51 301.91L86.91 299.31Z" fill="#000"/>
<path d="M125.13 274.81L127.73 277.41L125.13 280.01L122.53 277.41Z" fill="#000"/>
<path d="M160.75 251.93L163.35 254.53L160.75 257.13L158.15 254.53Z" fill="#000"/>
<path d="M196.37 231.09L198.97 233.69L196.37 236.29L193.77 233.69Z" fill="#000"/>
<path d="M231.99 212.50L234.59 215.10L231.99 217.70L229.39 215.10Z" fill="#000"/>
<path d="M80.18 197.10L84.02 197.10L82.10 200.46Z" fill="#038003"/>
<text x="90.40" y="200.80" font-size="6" text-anchor="start" fill="#000" font-weight="bold">NiCo-LDH@CNTs-3%</text>
<rect x="80.50" y="204.60" width="3.20" height="3.20" fill="#e8198b"/>
<text x="90.40" y="208.30" font-size="6" text-anchor="start" fill="#000" font-weight="bold">NiCo-LDH@CNTs-2.5%</text>
<circle cx="82.10" cy="213.70" r="1.60" fill="#5cc3f2"/>
<text x="90.40" y="215.80" font-size="6" text-anchor="start" fill="#000" font-weight="bold">NiCo-LDH@CNTs-2%</text>
<path d="M82.10 219.12L84.18 221.20L82.10 223.28L80.02 221.20Z" fill="#000"/>
<text x="90.40" y="223.30" font-size="6" text-anchor="start" fill="#000" font-weight="bold">NiCo-LDH-150</text>
<path d="M80.50 226.78L83.86 228.70L80.50 230.62Z" fill="#8000ff"/>
<text x="90.40" y="230.80" font-size="6" text-anchor="start" fill="#000" font-weight="bold">ZIF-67-1/4</text>
<circle cx="82.10" cy="236.20" r="1.60" fill="#f39320"/>
<text x="90.40" y="238.30" font-size="6" text-anchor="start" fill="#000" font-weight="bold">Pd/C (20%)</text>
<text x="183.30" y="231.50" font-size="7" font-weight="bold" fill="#e8198b" transform="rotate(-31 183.30 231.50)">C<tspan font-size="4.5" dy="1.5">dl</tspan><tspan dy="-1.5">=2.98 </tspan><tspan font-weight="normal">μ</tspan>F cm<tspan font-size="4.5" dy="-2.5">-2</tspan></text>
<text x="190.00" y="249.50" font-size="7" font-weight="bold" fill="#000" transform="rotate(-31 190.00 249.50)">C<tspan font-size="4.5" dy="1.5">dl</tspan><tspan dy="-1.5">=2.59 </tspan><tspan font-weight="normal">μ</tspan>F cm<tspan font-size="4.5" dy="-2.5">-2</tspan></text>
<text x="185.00" y="276.00" font-size="7" font-weight="bold" fill="#038003" transform="rotate(-17.5 185.00 276.00)">C<tspan font-size="4.5" dy="1.5">dl</tspan><tspan dy="-1.5">=1.64 </tspan><tspan font-weight="normal">μ</tspan>F cm<tspan font-size="4.5" dy="-2.5">-2</tspan></text>
<text x="185.00" y="291.00" font-size="7" font-weight="bold" fill="#5cc3f2" transform="rotate(-14.5 185.00 291.00)">C<tspan font-size="4.5" dy="1.5">dl</tspan><tspan dy="-1.5">=1.03 </tspan><tspan font-weight="normal">μ</tspan>F cm<tspan font-size="4.5" dy="-2.5">-2</tspan></text>
<text x="190.00" y="308.00" font-size="7" font-weight="bold" fill="#f39320" transform="rotate(-11.5 190.00 308.00)">C<tspan font-size="4.5" dy="1.5">dl</tspan><tspan dy="-1.5">=0.9 </tspan><tspan font-weight="normal">μ</tspan>F cm<tspan font-size="4.5" dy="-2.5">-2</tspan></text>
<text x="186.00" y="322.50" font-size="7" font-weight="bold" fill="#8000ff" transform="rotate(-6 186.00 322.50)">C<tspan font-size="4.5" dy="1.5">dl</tspan><tspan dy="-1.5">=0.45 </tspan><tspan font-weight="normal">μ</tspan>F cm<tspan font-size="4.5" dy="-2.5">-2</tspan></text>
<rect x="330.20" y="286.56" width="12.3" height="49.34" fill="#038003"/>
<text x="336.35" y="283.86" font-size="7.3" text-anchor="middle" fill="#038003" font-weight="bold">3.41</text>
<rect x="360.18" y="246.19" width="12.3" height="89.71" fill="#ff0080"/>
<text x="366.33" y="243.49" font-size="7.3" text-anchor="middle" fill="#ff0080" font-weight="bold">6.20</text>
<rect x="390.16" y="304.93" width="12.3" height="30.97" fill="#54bcfc"/>
<text x="396.31" y="302.23" font-size="7.3" text-anchor="middle" fill="#54bcfc" font-weight="bold">2.14</text>
<rect x="420.14" y="257.91" width="12.3" height="77.99" fill="#000"/>
<text x="426.29" y="255.21" font-size="7.3" text-anchor="middle" fill="#000" font-weight="bold">5.39</text>
<rect x="450.12" y="322.44" width="12.3" height="13.46" fill="#8000ff"/>
<text x="456.27" y="319.74" font-size="7.3" text-anchor="middle" fill="#8000ff" font-weight="bold">0.93</text>
<rect x="480.10" y="308.84" width="12.3" height="27.06" fill="#ff8000"/>
<text x="486.25" y="306.14" font-size="7.3" text-anchor="middle" fill="#ff8000" font-weight="bold">1.87</text>
<rect x="415.4" y="194.00" width="14.2" height="6.7" fill="#038003"/>
<text x="431.70" y="199.30" font-size="6.1" text-anchor="start" fill="#000" font-weight="bold">NiCo-LDH@CNTs-3%</text>
<rect x="415.4" y="201.75" width="14.2" height="6.7" fill="#ff0080"/>
<text x="431.70" y="207.05" font-size="6.1" text-anchor="start" fill="#000" font-weight="bold">NiCo-LDH@CNTs-2.5%</text>
<rect x="415.4" y="209.50" width="14.2" height="6.7" fill="#54bcfc"/>
<text x="431.70" y="214.80" font-size="6.1" text-anchor="start" fill="#000" font-weight="bold">NiCo-LDH@CNTs-2%</text>
<rect x="415.4" y="217.25" width="14.2" height="6.7" fill="#000"/>
<text x="431.70" y="222.55" font-size="6.1" text-anchor="start" fill="#000" font-weight="bold">NiCo-LDH-150</text>
<rect x="415.4" y="225.00" width="14.2" height="6.7" fill="#8000ff"/>
<text x="431.70" y="230.30" font-size="6.1" text-anchor="start" fill="#000" font-weight="bold">ZIF-67-1/4</text>
<rect x="415.4" y="232.75" width="14.2" height="6.7" fill="#ff8000"/>
<text x="431.70" y="238.05" font-size="6.1" text-anchor="start" fill="#000" font-weight="bold">Pd/C (20%)</text>
<rect x="330.30" y="452.44" width="12.3" height="64.56" fill="#038003"/>
<text x="336.45" y="449.74" font-size="7.3" text-anchor="middle" fill="#038003" font-weight="bold">1.12</text>
<rect x="360.25" y="417.86" width="12.3" height="99.14" fill="#ff0080"/>
<text x="366.40" y="415.16" font-size="7.3" text-anchor="middle" fill="#ff0080" font-weight="bold">1.72</text>
<rect x="390.20" y="455.33" width="12.3" height="61.67" fill="#54bcfc"/>
<text x="396.35" y="452.63" font-size="7.3" text-anchor="middle" fill="#54bcfc" font-weight="bold">1.07</text>
<rect x="420.15" y="449.56" width="12.3" height="67.44" fill="#000"/>
<text x="426.30" y="446.86" font-size="7.3" text-anchor="middle" fill="#000" font-weight="bold">1.12</text>
<rect x="450.10" y="438.03" width="12.3" height="78.97" fill="#8000ff"/>
<text x="456.25" y="435.33" font-size="7.3" text-anchor="middle" fill="#8000ff" font-weight="bold">1.37</text>
<rect x="480.05" y="463.39" width="12.3" height="53.61" fill="#ff8000"/>
<text x="486.20" y="460.69" font-size="7.3" text-anchor="middle" fill="#000" font-weight="bold">0.91</text>
<rect x="415.4" y="376.00" width="14.2" height="6.7" fill="#038003"/>
<text x="431.70" y="381.30" font-size="6.1" text-anchor="start" fill="#000" font-weight="bold">NiCo-LDH@CNTs-3%</text>
<rect x="415.4" y="383.75" width="14.2" height="6.7" fill="#ff0080"/>
<text x="431.70" y="389.05" font-size="6.1" text-anchor="start" fill="#000" font-weight="bold">NiCo-LDH@CNTs-2.5%</text>
<rect x="415.4" y="391.50" width="14.2" height="6.7" fill="#54bcfc"/>
<text x="431.70" y="396.80" font-size="6.1" text-anchor="start" fill="#000" font-weight="bold">NiCo-LDH@CNTs-2%</text>
<rect x="415.4" y="399.25" width="14.2" height="6.7" fill="#000"/>
<text x="431.70" y="404.55" font-size="6.1" text-anchor="start" fill="#000" font-weight="bold">NiCo-LDH-150</text>
<rect x="415.4" y="407.00" width="14.2" height="6.7" fill="#8000ff"/>
<text x="431.70" y="412.30" font-size="6.1" text-anchor="start" fill="#000" font-weight="bold">ZIF-67-1/4</text>
<rect x="415.4" y="414.75" width="14.2" height="6.7" fill="#ff8000"/>
<text x="431.70" y="420.05" font-size="6.1" text-anchor="start" fill="#000" font-weight="bold">Pd/C (20%)</text>
<circle cx="207.40" cy="381.10" r="2.40" fill="#000"/>
<circle cx="193.20" cy="394.80" r="2.40" fill="#000"/>
<circle cx="180.00" cy="407.00" r="2.40" fill="#000"/>
<circle cx="167.70" cy="418.30" r="2.40" fill="#000"/>
<circle cx="157.10" cy="427.80" r="2.40" fill="#000"/>
<circle cx="146.50" cy="437.70" r="2.40" fill="#000"/>
<circle cx="137.80" cy="446.20" r="2.40" fill="#000"/>
<circle cx="130.50" cy="453.70" r="2.40" fill="#000"/>
<circle cx="122.90" cy="461.10" r="2.40" fill="#000"/>
<circle cx="117.50" cy="468.50" r="2.40" fill="#000"/>
<circle cx="112.50" cy="474.50" r="2.40" fill="#000"/>
<circle cx="108.50" cy="479.50" r="2.40" fill="#000"/>
<circle cx="106.25" cy="481.75" r="2.40" fill="#000"/>
<circle cx="104.00" cy="484.00" r="2.40" fill="#000"/>
<circle cx="101.50" cy="487.00" r="2.40" fill="#000"/>
<circle cx="99.00" cy="490.00" r="2.40" fill="#000"/>
<circle cx="96.50" cy="493.50" r="2.40" fill="#000"/>
<circle cx="94.00" cy="497.00" r="2.40" fill="#000"/>
<circle cx="92.75" cy="498.75" r="2.40" fill="#000"/>
<circle cx="91.50" cy="500.50" r="2.40" fill="#000"/>
<circle cx="90.25" cy="502.25" r="2.40" fill="#000"/>
<circle cx="89.00" cy="504.00" r="2.40" fill="#000"/>
<circle cx="88.00" cy="506.30" r="2.40" fill="#000"/>
<circle cx="87.00" cy="508.60" r="2.40" fill="#000"/>
<circle cx="86.00" cy="510.90" r="2.40" fill="#000"/>
<circle cx="85.00" cy="513.20" r="2.40" fill="#000"/>
<circle cx="84.00" cy="515.50" r="2.40" fill="#000"/>
<circle cx="227.90" cy="375.90" r="2.40" fill="#ff8000"/>
<circle cx="207.80" cy="387.70" r="2.40" fill="#ff8000"/>
<circle cx="190.10" cy="400.00" r="2.40" fill="#ff8000"/>
<circle cx="174.10" cy="411.70" r="2.40" fill="#ff8000"/>
<circle cx="160.70" cy="422.40" r="2.40" fill="#ff8000"/>
<circle cx="148.90" cy="433.00" r="2.40" fill="#ff8000"/>
<circle cx="138.70" cy="441.90" r="2.40" fill="#ff8000"/>
<circle cx="130.00" cy="451.30" r="2.40" fill="#ff8000"/>
<circle cx="122.90" cy="459.50" r="2.40" fill="#ff8000"/>
<circle cx="117.50" cy="466.30" r="2.40" fill="#ff8000"/>
<circle cx="112.20" cy="472.90" r="2.40" fill="#ff8000"/>
<circle cx="108.10" cy="477.80" r="2.40" fill="#ff8000"/>
<circle cx="104.40" cy="482.40" r="2.40" fill="#ff8000"/>
<circle cx="102.70" cy="484.60" r="2.40" fill="#ff8000"/>
<circle cx="101.00" cy="486.80" r="2.40" fill="#ff8000"/>
<circle cx="97.90" cy="490.70" r="2.40" fill="#ff8000"/>
<circle cx="96.30" cy="493.05" r="2.40" fill="#ff8000"/>
<circle cx="94.70" cy="495.40" r="2.40" fill="#ff8000"/>
<circle cx="93.15" cy="497.75" r="2.40" fill="#ff8000"/>
<circle cx="91.60" cy="500.10" r="2.40" fill="#ff8000"/>
<circle cx="90.45" cy="501.95" r="2.40" fill="#ff8000"/>
<circle cx="89.30" cy="503.80" r="2.40" fill="#ff8000"/>
<circle cx="88.15" cy="505.65" r="2.40" fill="#ff8000"/>
<circle cx="87.00" cy="507.50" r="2.40" fill="#ff8000"/>
<circle cx="85.58" cy="509.57" r="2.40" fill="#ff8000"/>
<circle cx="84.15" cy="511.65" r="2.40" fill="#ff8000"/>
<circle cx="82.72" cy="513.72" r="2.40" fill="#ff8000"/>
<circle cx="81.30" cy="515.80" r="2.40" fill="#ff8000"/>
<path d="M248.40 389.80L251.00 392.40L248.40 395.00L245.80 392.40Z" fill="#4cc0f4"/>
<path d="M231.40 402.80L234.00 405.40L231.40 408.00L228.80 405.40Z" fill="#4cc0f4"/>
<path d="M216.10 413.90L218.70 416.50L216.10 419.10L213.50 416.50Z" fill="#4cc0f4"/>
<path d="M203.60 422.80L206.20 425.40L203.60 428.00L201.00 425.40Z" fill="#4cc0f4"/>
<path d="M192.00 431.10L194.60 433.70L192.00 436.30L189.40 433.70Z" fill="#4cc0f4"/>
<path d="M181.90 438.20L184.50 440.80L181.90 443.40L179.30 440.80Z" fill="#4cc0f4"/>
<path d="M172.50 444.80L175.10 447.40L172.50 450.00L169.90 447.40Z" fill="#4cc0f4"/>
<path d="M163.70 450.70L166.30 453.30L163.70 455.90L161.10 453.30Z" fill="#4cc0f4"/>
<path d="M155.50 456.30L158.10 458.90L155.50 461.50L152.90 458.90Z" fill="#4cc0f4"/>
<path d="M148.30 461.20L150.90 463.80L148.30 466.40L145.70 463.80Z" fill="#4cc0f4"/>
<path d="M141.40 465.40L144.00 468.00L141.40 470.60L138.80 468.00Z" fill="#4cc0f4"/>
<path d="M135.50 469.50L138.10 472.10L135.50 474.70L132.90 472.10Z" fill="#4cc0f4"/>
<path d="M130.00 473.60L132.60 476.20L130.00 478.80L127.40 476.20Z" fill="#4cc0f4"/>
<path d="M124.30 476.60L126.90 479.20L124.30 481.80L121.70 479.20Z" fill="#4cc0f4"/>
<path d="M119.30 479.80L121.90 482.40L119.30 485.00L116.70 482.40Z" fill="#4cc0f4"/>
<path d="M114.60 482.80L117.20 485.40L114.60 488.00L112.00 485.40Z" fill="#4cc0f4"/>
<path d="M110.40 485.80L113.00 488.40L110.40 491.00L107.80 488.40Z" fill="#4cc0f4"/>
<path d="M106.50 488.90L109.10 491.50L106.50 494.10L103.90 491.50Z" fill="#4cc0f4"/>
<path d="M103.00 492.00L105.60 494.60L103.00 497.20L100.40 494.60Z" fill="#4cc0f4"/>
<path d="M100.20 495.20L102.80 497.80L100.20 500.40L97.60 497.80Z" fill="#4cc0f4"/>
<path d="M98.90 496.75L101.50 499.35L98.90 501.95L96.30 499.35Z" fill="#4cc0f4"/>
<path d="M97.60 498.30L100.20 500.90L97.60 503.50L95.00 500.90Z" fill="#4cc0f4"/>
<path d="M96.30 499.85L98.90 502.45L96.30 505.05L93.70 502.45Z" fill="#4cc0f4"/>
<path d="M95.00 501.40L97.60 504.00L95.00 506.60L92.40 504.00Z" fill="#4cc0f4"/>
<path d="M93.83 503.32L96.43 505.92L93.83 508.52L91.23 505.92Z" fill="#4cc0f4"/>
<path d="M92.67 505.23L95.27 507.83L92.67 510.43L90.07 507.83Z" fill="#4cc0f4"/>
<path d="M91.50 507.15L94.10 509.75L91.50 512.35L88.90 509.75Z" fill="#4cc0f4"/>
<path d="M90.33 509.07L92.93 511.67L90.33 514.27L87.73 511.67Z" fill="#4cc0f4"/>
<path d="M89.17 510.98L91.77 513.58L89.17 516.18L86.57 513.58Z" fill="#4cc0f4"/>
<path d="M88.00 512.90L90.60 515.50L88.00 518.10L85.40 515.50Z" fill="#4cc0f4"/>
<path d="M238.50 416.24 L239.21 418.12 L241.22 418.22 L239.65 419.47 L240.18 421.41 L238.50 420.31 L236.82 421.41 L237.35 419.47 L235.78 418.22 L237.79 418.12Z" fill="#f01010"/>
<path d="M225.50 423.74 L226.21 425.62 L228.22 425.72 L226.65 426.97 L227.18 428.91 L225.50 427.81 L223.82 428.91 L224.35 426.97 L222.78 425.72 L224.79 425.62Z" fill="#f01010"/>
<path d="M213.00 430.34 L213.71 432.22 L215.72 432.32 L214.15 433.57 L214.68 435.51 L213.00 434.41 L211.32 435.51 L211.85 433.57 L210.28 432.32 L212.29 432.22Z" fill="#f01010"/>
<path d="M201.50 436.74 L202.21 438.62 L204.22 438.72 L202.65 439.97 L203.18 441.91 L201.50 440.81 L199.82 441.91 L200.35 439.97 L198.78 438.72 L200.79 438.62Z" fill="#f01010"/>
<path d="M190.80 442.14 L191.51 444.02 L193.52 444.12 L191.95 445.37 L192.48 447.31 L190.80 446.21 L189.12 447.31 L189.65 445.37 L188.08 444.12 L190.09 444.02Z" fill="#f01010"/>
<path d="M180.70 447.34 L181.41 449.22 L183.42 449.32 L181.85 450.57 L182.38 452.51 L180.70 451.41 L179.02 452.51 L179.55 450.57 L177.98 449.32 L179.99 449.22Z" fill="#f01010"/>
<path d="M172.00 452.04 L172.71 453.92 L174.72 454.02 L173.15 455.27 L173.68 457.21 L172.00 456.11 L170.32 457.21 L170.85 455.27 L169.28 454.02 L171.29 453.92Z" fill="#f01010"/>
<path d="M163.00 456.74 L163.71 458.62 L165.72 458.72 L164.15 459.97 L164.68 461.91 L163.00 460.81 L161.32 461.91 L161.85 459.97 L160.28 458.72 L162.29 458.62Z" fill="#f01010"/>
<path d="M155.00 460.94 L155.71 462.82 L157.72 462.92 L156.15 464.17 L156.68 466.11 L155.00 465.01 L153.32 466.11 L153.85 464.17 L152.28 462.92 L154.29 462.82Z" fill="#f01010"/>
<path d="M147.50 464.94 L148.21 466.82 L150.22 466.92 L148.65 468.17 L149.18 470.11 L147.50 469.01 L145.82 470.11 L146.35 468.17 L144.78 466.92 L146.79 466.82Z" fill="#f01010"/>
<path d="M140.50 468.74 L141.21 470.62 L143.22 470.72 L141.65 471.97 L142.18 473.91 L140.50 472.81 L138.82 473.91 L139.35 471.97 L137.78 470.72 L139.79 470.62Z" fill="#f01010"/>
<path d="M134.00 472.34 L134.71 474.22 L136.72 474.32 L135.15 475.57 L135.68 477.51 L134.00 476.41 L132.32 477.51 L132.85 475.57 L131.28 474.32 L133.29 474.22Z" fill="#f01010"/>
<path d="M128.00 475.94 L128.71 477.82 L130.72 477.92 L129.15 479.17 L129.68 481.11 L128.00 480.01 L126.32 481.11 L126.85 479.17 L125.28 477.92 L127.29 477.82Z" fill="#f01010"/>
<path d="M122.50 479.34 L123.21 481.22 L125.22 481.32 L123.65 482.57 L124.18 484.51 L122.50 483.41 L120.82 484.51 L121.35 482.57 L119.78 481.32 L121.79 481.22Z" fill="#f01010"/>
<path d="M117.50 482.64 L118.21 484.52 L120.22 484.62 L118.65 485.87 L119.18 487.81 L117.50 486.71 L115.82 487.81 L116.35 485.87 L114.78 484.62 L116.79 484.52Z" fill="#f01010"/>
<path d="M115.95 485.99 L116.66 487.87 L118.67 487.97 L117.10 489.22 L117.63 491.16 L115.95 490.06 L114.27 491.16 L114.80 489.22 L113.23 487.97 L115.24 487.87Z" fill="#f01010"/>
<path d="M114.40 489.34 L115.11 491.22 L117.12 491.32 L115.55 492.57 L116.08 494.51 L114.40 493.41 L112.72 494.51 L113.25 492.57 L111.68 491.32 L113.69 491.22Z" fill="#f01010"/>
<path d="M110.40 492.44 L111.11 494.32 L113.12 494.42 L111.55 495.67 L112.08 497.61 L110.40 496.51 L108.72 497.61 L109.25 495.67 L107.68 494.42 L109.69 494.32Z" fill="#f01010"/>
<path d="M106.50 495.64 L107.21 497.52 L109.22 497.62 L107.65 498.87 L108.18 500.81 L106.50 499.71 L104.82 500.81 L105.35 498.87 L103.78 497.62 L105.79 497.52Z" fill="#f01010"/>
<path d="M103.40 498.34 L104.11 500.22 L106.12 500.32 L104.55 501.57 L105.08 503.51 L103.40 502.41 L101.72 503.51 L102.25 501.57 L100.68 500.32 L102.69 500.22Z" fill="#f01010"/>
<path d="M100.20 501.54 L100.91 503.42 L102.92 503.52 L101.35 504.77 L101.88 506.71 L100.20 505.61 L98.52 506.71 L99.05 504.77 L97.48 503.52 L99.49 503.42Z" fill="#f01010"/>
<path d="M97.10 504.64 L97.81 506.52 L99.82 506.62 L98.25 507.87 L98.78 509.81 L97.10 508.71 L95.42 509.81 L95.95 507.87 L94.38 506.62 L96.39 506.52Z" fill="#f01010"/>
<path d="M95.50 506.24 L96.21 508.12 L98.22 508.22 L96.65 509.47 L97.18 511.41 L95.50 510.31 L93.82 511.41 L94.35 509.47 L92.78 508.22 L94.79 508.12Z" fill="#f01010"/>
<path d="M93.90 507.84 L94.61 509.72 L96.62 509.82 L95.05 511.07 L95.58 513.01 L93.90 511.91 L92.22 513.01 L92.75 511.07 L91.18 509.82 L93.19 509.72Z" fill="#f01010"/>
<path d="M92.70 509.44 L93.41 511.32 L95.42 511.42 L93.85 512.67 L94.38 514.61 L92.70 513.51 L91.02 514.61 L91.55 512.67 L89.98 511.42 L91.99 511.32Z" fill="#f01010"/>
<path d="M91.50 511.04 L92.21 512.92 L94.22 513.02 L92.65 514.27 L93.18 516.21 L91.50 515.11 L89.82 516.21 L90.35 514.27 L88.78 513.02 L90.79 512.92Z" fill="#f01010"/>
<path d="M90.30 512.64 L91.01 514.52 L93.02 514.62 L91.45 515.87 L91.98 517.81 L90.30 516.71 L88.62 517.81 L89.15 515.87 L87.58 514.62 L89.59 514.52Z" fill="#f01010"/>
<rect x="233.65" y="404.05" width="4.10" height="4.10" fill="#038003"/>
<rect x="218.25" y="415.15" width="4.10" height="4.10" fill="#038003"/>
<rect x="205.75" y="424.55" width="4.10" height="4.10" fill="#038003"/>
<rect x="194.65" y="432.35" width="4.10" height="4.10" fill="#038003"/>
<rect x="184.55" y="440.35" width="4.10" height="4.10" fill="#038003"/>
<rect x="175.15" y="446.95" width="4.10" height="4.10" fill="#038003"/>
<rect x="166.85" y="452.35" width="4.10" height="4.10" fill="#038003"/>
<rect x="158.65" y="458.05" width="4.10" height="4.10" fill="#038003"/>
<rect x="152.05" y="462.75" width="4.10" height="4.10" fill="#038003"/>
<rect x="145.95" y="466.95" width="4.10" height="4.10" fill="#038003"/>
<rect x="139.45" y="471.35" width="4.10" height="4.10" fill="#038003"/>
<rect x="133.95" y="474.95" width="4.10" height="4.10" fill="#038003"/>
<rect x="128.95" y="478.35" width="4.10" height="4.10" fill="#038003"/>
<rect x="124.25" y="481.25" width="4.10" height="4.10" fill="#038003"/>
<rect x="119.85" y="484.15" width="4.10" height="4.10" fill="#038003"/>
<rect x="115.55" y="487.05" width="4.10" height="4.10" fill="#038003"/>
<rect x="111.55" y="489.85" width="4.10" height="4.10" fill="#038003"/>
<rect x="107.55" y="492.95" width="4.10" height="4.10" fill="#038003"/>
<rect x="103.65" y="496.15" width="4.10" height="4.10" fill="#038003"/>
<rect x="100.55" y="498.85" width="4.10" height="4.10" fill="#038003"/>
<rect x="97.35" y="502.05" width="4.10" height="4.10" fill="#038003"/>
<rect x="94.25" y="505.15" width="4.10" height="4.10" fill="#038003"/>
<rect x="92.65" y="506.75" width="4.10" height="4.10" fill="#038003"/>
<rect x="91.05" y="508.35" width="4.10" height="4.10" fill="#038003"/>
<rect x="89.85" y="510.05" width="4.10" height="4.10" fill="#038003"/>
<rect x="88.65" y="511.75" width="4.10" height="4.10" fill="#038003"/>
<rect x="87.45" y="513.45" width="4.10" height="4.10" fill="#038003"/>
<rect x="214.75" y="384.95" width="4.10" height="4.10" fill="#8000ff"/>
<rect x="198.75" y="398.65" width="4.10" height="4.10" fill="#8000ff"/>
<rect x="185.25" y="410.45" width="4.10" height="4.10" fill="#8000ff"/>
<rect x="173.25" y="421.05" width="4.10" height="4.10" fill="#8000ff"/>
<rect x="162.15" y="430.45" width="4.10" height="4.10" fill="#8000ff"/>
<rect x="151.55" y="438.75" width="4.10" height="4.10" fill="#8000ff"/>
<rect x="142.85" y="446.95" width="4.10" height="4.10" fill="#8000ff"/>
<rect x="135.05" y="454.05" width="4.10" height="4.10" fill="#8000ff"/>
<rect x="128.15" y="460.65" width="4.10" height="4.10" fill="#8000ff"/>
<rect x="121.65" y="466.75" width="4.10" height="4.10" fill="#8000ff"/>
<rect x="116.25" y="471.85" width="4.10" height="4.10" fill="#8000ff"/>
<rect x="111.85" y="476.75" width="4.10" height="4.10" fill="#8000ff"/>
<rect x="107.55" y="480.85" width="4.10" height="4.10" fill="#8000ff"/>
<rect x="105.60" y="482.80" width="4.10" height="4.10" fill="#8000ff"/>
<rect x="103.65" y="484.75" width="4.10" height="4.10" fill="#8000ff"/>
<rect x="100.55" y="488.65" width="4.10" height="4.10" fill="#8000ff"/>
<rect x="97.35" y="492.55" width="4.10" height="4.10" fill="#8000ff"/>
<rect x="94.25" y="496.55" width="4.10" height="4.10" fill="#8000ff"/>
<rect x="92.30" y="499.30" width="4.10" height="4.10" fill="#8000ff"/>
<rect x="90.35" y="502.05" width="4.10" height="4.10" fill="#8000ff"/>
<rect x="89.15" y="504.00" width="4.10" height="4.10" fill="#8000ff"/>
<rect x="87.95" y="505.95" width="4.10" height="4.10" fill="#8000ff"/>
<rect x="86.55" y="507.51" width="4.10" height="4.10" fill="#8000ff"/>
<rect x="85.15" y="509.07" width="4.10" height="4.10" fill="#8000ff"/>
<rect x="83.75" y="510.63" width="4.10" height="4.10" fill="#8000ff"/>
<rect x="82.35" y="512.19" width="4.10" height="4.10" fill="#8000ff"/>
<rect x="80.95" y="513.75" width="4.10" height="4.10" fill="#8000ff"/>
<rect x="76.90" y="377.00" width="3.80" height="3.80" fill="#038003"/>
<text x="88.10" y="381.10" font-size="6.3" text-anchor="start" fill="#000" font-weight="bold">NiCo-LDH@CNTs-3%</text>
<path d="M78.80 383.95 L79.48 385.75 L81.40 385.84 L79.90 387.04 L80.40 388.89 L78.80 387.83 L77.20 388.89 L77.70 387.04 L76.20 385.84 L78.12 385.75Z" fill="#f01010"/>
<text x="88.10" y="388.88" font-size="6.3" text-anchor="start" fill="#000" font-weight="bold">NiCo-LDH@CNTs-2.5%</text>
<path d="M78.80 391.99L81.27 394.46L78.80 396.93L76.33 394.46Z" fill="#5cc3f2"/>
<text x="88.10" y="396.66" font-size="6.3" text-anchor="start" fill="#000" font-weight="bold">NiCo-LDH@CNTs-2%</text>
<circle cx="78.80" cy="402.24" r="2.20" fill="#000"/>
<text x="88.10" y="404.44" font-size="6.3" text-anchor="start" fill="#000" font-weight="bold">NiCo-LDH-150</text>
<rect x="76.90" y="408.12" width="3.80" height="3.80" fill="#8000ff"/>
<text x="88.10" y="412.22" font-size="6.3" text-anchor="start" fill="#000" font-weight="bold">ZIF-67-1/4</text>
<circle cx="78.80" cy="417.80" r="2.30" fill="#ff8000"/>
<text x="88.10" y="420.00" font-size="6.3" text-anchor="start" fill="#000" font-weight="bold">Pd/C (20%)</text>
<path d="M129.7 487.8H138L143 493.6L151.5 484.2L157.5 493.6L166.5 484.2L170.3 488H180.3M180.3 488H197.5M180.3 488V508.5H190L194.5 513L203 504L211 513L216 504L220 508.5H230V488M207.5 488H244.7" fill="none" stroke="#111" stroke-width="1.1"/>
<path d="M196 484.5L199.5 488L196 491.5M202.5 484.5L206 488L202.5 491.5" fill="none" stroke="#111" stroke-width="1.1"/>
<circle cx="180.3" cy="488" r="2.2" fill="#000"/>
<text x="150.50" y="481.20" font-size="7" text-anchor="middle" fill="#000" font-weight="normal">R<tspan font-size="4" dy="1">s</tspan></text>
<text x="201.40" y="481.50" font-size="6.3" text-anchor="middle" fill="#000" font-weight="bold">CPE</text>
<text x="205.50" y="502.50" font-size="7" text-anchor="middle" fill="#000" font-weight="normal">R<tspan font-size="4" dy="1">ct</tspan></text>
<rect x="72.3" y="9.3" width="178.10" height="142.70" fill="none" stroke="#000" stroke-width="1.2"/>
<rect x="317.3" y="8.8" width="177.30" height="143.40" fill="none" stroke="#000" stroke-width="1.2"/>
<rect x="71.7" y="191.2" width="178.10" height="143.00" fill="none" stroke="#000" stroke-width="1.2"/>
<rect x="321.0" y="191.2" width="180.20" height="144.70" fill="none" stroke="#000" stroke-width="1.2"/>
<rect x="69.2" y="372.3" width="180.60" height="145.20" fill="none" stroke="#000" stroke-width="1.2"/>
<rect x="321.2" y="372.9" width="179.70" height="144.10" fill="none" stroke="#000" stroke-width="1.2"/>
</svg></body></html>
